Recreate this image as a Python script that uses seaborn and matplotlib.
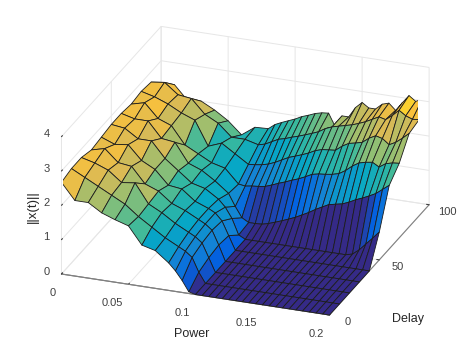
import matplotlib
matplotlib.use("Agg")
import matplotlib.pyplot as plt
import numpy as np
import seaborn as sns
from matplotlib.colors import Normalize

sns.set_style("white")
plt.rcParams["font.family"] = ["Liberation Sans", "DejaVu Sans"]

PARULA = ["#352a87", "#0363e1", "#1485d4", "#06a7c6", "#38b99e", "#92bf73", "#d9ba56", "#fcc23a", "#f9fb0e"]

power = [0, .01, .02, .03, .04, .05, .06, .07, .08, .085, .09, .095, .10, .105, .11, .115, .12, .125, .13, .135,
         .14, .145, .15, .155, .16, .165, .17, .175, .18, .185, .19, .195, .20]
delay = [0, 10, 20, 30, 40, 50, 60, 70, 80, 90, 100]

flat = [0] * 20
d0 = [2.67, 2.2, 2.2, 1.96, 1.82, 1.7, 1.2, 1.1, .8, .6, .35, .05, 0] + flat
d10 = [2.75, 2.55, 2.35, 2.15, 1.95, 1.65, 1.4, 1.15, .95, .85, .7, .3, 0] + flat
d20 = [2.75, 2.65, 2.5, 2.2, 2.25, 1.7, 1.5, 1.25, 1.05, .95, .8, .4, 0] + flat
d30 = [2.65, 2.75, 2.4, 2.35, 1.9, 1.75, 1.45, 1.3, 1.1, 1.0, .85, .45, 0] + flat
d40 = [2.7, 2.55, 2.6, 2.2, 2.0, 1.6, 1.55, 1.25, 1.1, 1.0, .8, .4, 0] + flat
d50 = [2.75, 2.7, 2.45, 2.45, 2.0, 1.7, 1.4, 1.3, 1.05, .85, .55, .1, 0, 0, 0, 0, 0, 0, 0, 0,
       0, 0, 0, 0, 0, 0, 0, 0, .05, .2, .4, .6, .81]
d60 = [2.75, 2.65, 2.65, 2.2, 2.15, 1.6, 1.45, 1.2, .9, .55, .25, .14, .14, .15, .2, .27, .34, .42, .5, .6,
       .7, .82, .92, 1.02, 1.06, 1.1, 1.18, 1.28, 1.36, 1.45, 1.55, 1.7, 1.85]
d70 = [2.7, 2.8, 2.4, 2.25, 1.75, 1.55, 1.35, 1.25, .85, .82, .85, .87, .9, .97, 1.05, 1.12, 1.2, 1.27, 1.36, 1.46,
       1.5, 1.52, 1.55, 1.6, 1.72, 1.88, 2.0, 2.05, 2.08, 1.97, 2.1, 2.15, 2.17]
d80 = [2.75, 2.65, 2.5, 2.3, 2.15, 1.45, 1.6, 1.35, 1.1, 1.12, 1.15, 1.2, 1.28, 1.38, 1.48, 1.55, 1.62, 1.7, 1.8, 1.86,
       1.88, 1.9, 2.05, 2.16, 2.2, 2.25, 2.4, 2.5, 2.45, 2.3, 2.4, 2.55, 2.72]
d90 = [2.7, 2.75, 2.45, 2.4, 2.0, 1.8, 1.45, 1.45, 1.35, 1.4, 1.5, 1.6, 1.65, 1.72, 1.78, 1.85, 1.92, 2.0, 2.12, 2.2,
       2.25, 2.3, 2.35, 2.42, 2.5, 2.6, 2.7, 2.65, 2.8, 2.98, 2.85, 2.78, 2.8]
d100 = [2.06, 2.36, 1.95, 2.0, 1.8, 1.55, 1.2, 1.48, 1.5, 1.65, 1.74, 1.82, 1.9, 2.0, 2.07, 2.15, 2.2, 2.22, 1.85, 2.2,
        2.2, 2.5, 2.68, 2.55, 2.55, 2.72, 2.78, 2.6, 2.85, 3.09, 2.95, 3.05, 3.12]
rows = [d0, d10, d20, d30, d40, d50, d60, d70, d80, d90, d100]

x_ticks = [0, .05, .1, .15, .2]
x_labels = ["0", "0.05", "0.1", "0.15", "0.2"]
y_ticks = [0, 50, 100]
z_ticks = [0, 1, 2, 3, 4]

X, Y = np.meshgrid(power, delay)
Z = np.array(rows, dtype=float)
parula = sns.blend_palette(PARULA, as_cmap=True)
colors = parula(Normalize(0, 3.3)(Z))

fig = plt.figure(figsize=(4.74, 3.55), dpi=100)
ax = fig.add_axes([3.5 / 474, 2 / 355, 1, 1], projection="3d", proj_type="ortho")
ax.view_init(elev=24.3, azim=-69.6)
ax.set_box_aspect((1, 1, .527), zoom=1.18)
ax.patch.set_alpha(0)

ax.plot_surface(X, Y, Z, facecolors=colors, edgecolor="#1c1c1c", linewidth=.6, shade=False,
                rcount=len(delay), ccount=len(power), antialiased=True)
ax.plot([0, 0], [0, 0], [0, 4], color="#808080", lw=1.2, zorder=0)

ax.set_xlim(0, .2)
ax.set_ylim(0, 100)
ax.set_zlim(0, 4)
ax.set_xticks(x_ticks, x_labels)
ax.set_yticks(y_ticks)
ax.set_zticks(z_ticks)
ax.tick_params(labelsize=8, colors="#404040")
ax.tick_params(axis="x", pad=-.7)
ax.tick_params(axis="y", pad=1)
ax.tick_params(axis="z", pad=-2.6)
for lab in ax.get_xticklabels():
    lab.set_ha("right")
for lab in ax.get_yticklabels():
    lab.set_va("bottom")
for lab in ax.get_zticklabels():
    lab.set_va("bottom")
for a in (ax.xaxis, ax.yaxis, ax.zaxis):
    a.set_pane_color((1, 1, 1, 0))
    a.pane.set_edgecolor("#e4e4e4")
    a.line.set_color("#808080")
    a._axinfo["grid"].update(color="#e6e6e6", linewidth=.7)
    a._axinfo["tick"].update(inward_factor=0, outward_factor=.12)
ax.zaxis.set_ticks_position("lower")
ax.zaxis._axinfo["juggled"] = (1, 0, 2)

fig.text(192 / 474, 1 - 334 / 355, "Power", ha="center", va="center", fontsize=9, color="#262626")
fig.text(408 / 474, 1 - 319 / 355, "Delay", ha="center", va="center", fontsize=9, color="#262626")
fig.text(33 / 474, 1 - 207 / 355, "||x(t)||", ha="center", va="center", fontsize=9.5, rotation=90, color="#262626")
fig.savefig("out.png", dpi=100)
